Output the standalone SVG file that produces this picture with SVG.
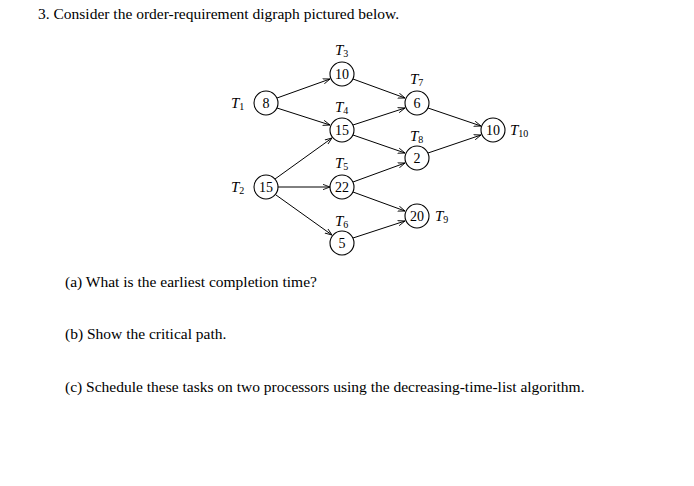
<svg xmlns="http://www.w3.org/2000/svg" width="694" height="486" viewBox="0 0 694 486">
<style>
text{font-family:"Liberation Serif","DejaVu Serif",serif;font-size:15.5px;fill:#000}
.n circle{fill:#fff;stroke:#000;stroke-width:1.1}
.v{text-anchor:middle;dominant-baseline:central;font-size:14px}
.lb{font-style:italic;font-size:15px}
.s{font-size:10px;font-style:normal}
.c line{stroke:#000;stroke-width:1;marker-end:url(#a)}
</style>
<defs><marker id="a" viewBox="0 0 8 8" refX="8" refY="4" markerWidth="7" markerHeight="7" orient="auto" markerUnits="userSpaceOnUse"><path d="M0,1 L8,4 L0,7" fill="none" stroke="#000" stroke-width="1"/></marker></defs>
<rect width="694" height="486" fill="#fff"/>
<text x="38" y="19">3. Consider the order-requirement digraph pictured below.</text>
<g class="c">
<line x1="277" y1="98" x2="330" y2="79"/>
<line x1="277" y1="108" x2="330" y2="125"/>
<line x1="275" y1="179" x2="332" y2="138"/>
<line x1="278" y1="187" x2="330" y2="187"/>
<line x1="276" y1="195" x2="332" y2="235"/>
<line x1="353" y1="79" x2="405" y2="98"/>
<line x1="353" y1="125" x2="405" y2="108"/>
<line x1="353" y1="135" x2="405" y2="153"/>
<line x1="353" y1="182" x2="405" y2="163"/>
<line x1="353" y1="192" x2="405" y2="211"/>
<line x1="353" y1="238" x2="405" y2="221"/>
<line x1="428" y1="108" x2="481" y2="126"/>
<line x1="428" y1="153" x2="481" y2="135"/>
</g>
<g id="T1" class="n"><circle cx="266" cy="103" r="12"/><text class="v" x="266" y="103">8</text><text class="lb" x="231" y="108">T<tspan class="s" dy="2">1</tspan></text></g>
<g id="T2" class="n"><circle cx="266" cy="187" r="12"/><text class="v" x="266" y="187">15</text><text class="lb" x="231" y="192">T<tspan class="s" dy="2">2</tspan></text></g>
<g id="T3" class="n"><circle cx="342" cy="74" r="12"/><text class="v" x="342" y="74">10</text><text class="lb" x="335" y="55">T<tspan class="s" dy="2">3</tspan></text></g>
<g id="T4" class="n"><circle cx="342" cy="130" r="12"/><text class="v" x="342" y="130">15</text><text class="lb" x="335" y="112">T<tspan class="s" dy="2">4</tspan></text></g>
<g id="T5" class="n"><circle cx="342" cy="187" r="12"/><text class="v" x="342" y="187">22</text><text class="lb" x="335" y="168">T<tspan class="s" dy="2">5</tspan></text></g>
<g id="T6" class="n"><circle cx="342" cy="243" r="12"/><text class="v" x="342" y="243">5</text><text class="lb" x="335" y="226">T<tspan class="s" dy="2">6</tspan></text></g>
<g id="T7" class="n"><circle cx="417" cy="103" r="12"/><text class="v" x="417" y="103">6</text><text class="lb" x="410" y="84">T<tspan class="s" dy="2">7</tspan></text></g>
<g id="T8" class="n"><circle cx="417" cy="158" r="12"/><text class="v" x="417" y="158">2</text><text class="lb" x="410" y="141">T<tspan class="s" dy="2">8</tspan></text></g>
<g id="T9" class="n"><circle cx="417" cy="216" r="12"/><text class="v" x="417" y="216">20</text><text class="lb" x="435" y="221">T<tspan class="s" dy="2">9</tspan></text></g>
<g id="T10" class="n"><circle cx="493" cy="130" r="12"/><text class="v" x="493" y="130">10</text><text class="lb" x="510" y="135">T<tspan class="s" dy="2">10</tspan></text></g>
<text x="65" y="287">(a) What is the earliest completion time?</text>
<text x="65" y="339">(b) Show the critical path.</text>
<text x="65" y="392">(c) Schedule these tasks on two processors using the decreasing-time-list algorithm.</text>
</svg>
